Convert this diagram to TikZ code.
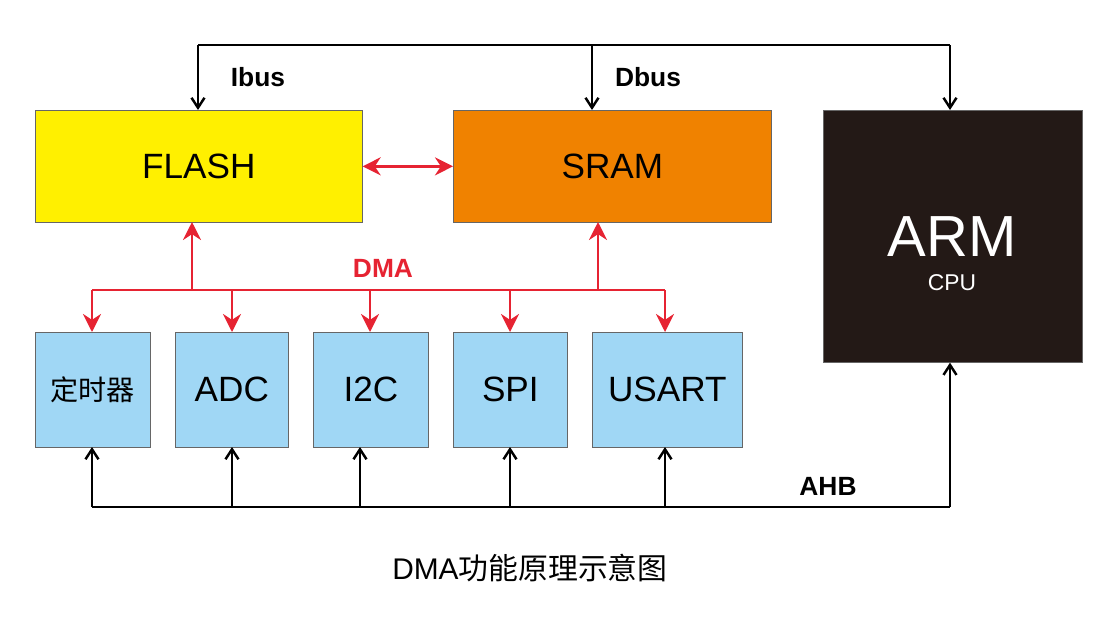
\documentclass[tikz,border=0pt]{standalone}
\usepackage{fontspec}
\setmainfont{Liberation Sans}
\newfontfamily\cjk{Noto Sans CJK SC}
\usetikzlibrary{arrows.meta, positioning}
\definecolor{flashc}{RGB}{255,240,0}
\definecolor{sramc}{RGB}{240,130,0}
\definecolor{armc}{RGB}{35,25,22}
\definecolor{periph}{RGB}{160,215,245}
\definecolor{dmared}{RGB}{230,35,50}
\begin{document}
\begin{tikzpicture}[
    x=0.02cm, y=-0.02cm,
    mem/.style={rectangle, draw=black!60, anchor=north west, inner sep=0pt, font=\fontsize{20}{22}\selectfont},
    dev/.style={rectangle, draw=black!60, fill=periph, anchor=north west, inner sep=0pt, minimum height=2.3cm, font=\fontsize{20}{22}\selectfont},
    dmaline/.style={draw=dmared, line width=1.6pt, -{Stealth[length=3.6mm, width=3.6mm]}},
    busline/.style={draw=black, line width=1.4pt, -{Straight Barb[length=2mm, width=2.6mm]}},
    buslabel/.style={font=\bfseries\fontsize{15}{17}\selectfont}
]
\useasboundingbox (0,0) rectangle (1099,620);

% Memories and CPU
\node[mem, fill=flashc, minimum width=6.54cm, minimum height=2.24cm] (flash) at (35,110) {FLASH};
\node[mem, fill=sramc, minimum width=6.36cm, minimum height=2.24cm] (sram) at (453,110) {SRAM};
\node[mem, fill=armc, minimum width=5.18cm, minimum height=5.04cm] (arm) at (823,110) {};
\node[text=white, font=\fontsize{33}{35}\selectfont] (armtxt) at (952,237) {ARM};
\node[text=white, font=\fontsize{13}{15}\selectfont] (cputxt) at (952,283) {CPU};

% Peripherals
\node[dev, minimum width=2.30cm, font=\cjk\fontsize{16}{18}\selectfont] (timer) at (35,332) {定时器};
\node[dev, minimum width=2.26cm] (adc) at (175,332) {ADC};
\node[dev, minimum width=2.30cm] (iic) at (313,332) {I2C};
\node[dev, minimum width=2.28cm] (spi) at (453,332) {SPI};
\node[dev, minimum width=3.00cm] (usart) at (592,332) {USART};

% Ibus / Dbus
\coordinate (ib) at (198,45);
\coordinate (db) at (592,45);
\coordinate (ab) at (950,45);
\draw[line width=1.4pt] (ib) -- (ab);
\draw[busline] (ib) -- (ib |- flash.north);
\draw[busline] (db) -- (db |- sram.north);
\draw[busline] (ab) -- (ab |- arm.north);
\node[buslabel] (ibus) at (258,77) {Ibus};
\node[buslabel] (dbus) at (648,77) {Dbus};

% DMA
\draw[dmaline, {Stealth[length=3.6mm, width=3.6mm]}-{Stealth[length=3.6mm, width=3.6mm]}] (flash.east) -- (sram.west);
\coordinate (dl) at (92,290);
\coordinate (dr) at (665,290);
\draw[draw=dmared, line width=1.6pt] (dl) -- (dr);
\draw[dmaline] (192,290) -- (192,222);
\draw[dmaline] (598,290) -- (598,222);
\foreach \n/\x in {timer/92, adc/232, iic/370, spi/510, usart/665}
    \draw[dmaline] (\x,290) -- (\x,332);
\node[text=dmared, buslabel] (dmatxt) at (383,268) {DMA};

% AHB
\coordinate (hl) at (92,507);
\coordinate (hr) at (950,507);
\draw[line width=1.4pt] (hl) -- (hr);
\foreach \n/\x in {timer/92, adc/232, iic/360, spi/510, usart/665}
    \draw[busline] (\x,507) -- (\x,447);
\draw[busline] (hr) -- (hr |- arm.south);
\node[buslabel] (ahb) at (828,486) {AHB};

% Caption
\node[font=\fontsize{17}{19}\selectfont] (caption) at (530,568) {DMA{\cjk 功能原理示意图}};
\end{tikzpicture}
\end{document}
